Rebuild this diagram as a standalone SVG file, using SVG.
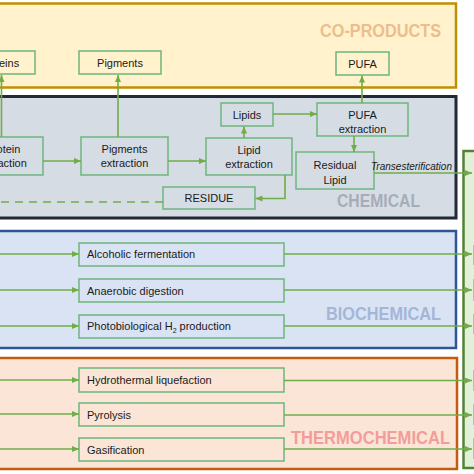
<svg xmlns="http://www.w3.org/2000/svg" width="474" height="474" viewBox="0 0 474 474">
<defs>
<marker id="ah" markerUnits="userSpaceOnUse" markerWidth="7" markerHeight="6" refX="7" refY="3" orient="auto">
<path d="M0,0 L7,3 L0,6 z" fill="#70AD47"/>
</marker>
<style>
.box{fill:none;stroke:#6DB57E;stroke-width:1.5}
.t{font-family:"Liberation Sans",Arial,sans-serif;font-size:11px;fill:#1a1a1a}
.c{text-anchor:middle}
.hd{font-family:"Liberation Sans",Arial,sans-serif;font-size:18px;font-weight:bold}
.ln{fill:none;stroke:#70AD47;stroke-width:1.6}
.ar{marker-end:url(#ah)}
.out{fill:#A9D18E;stroke:none}
</style>
</defs>
<rect width="474" height="474" fill="#ffffff"/>
<g id="panel-coproducts">
<rect x="-10" y="3.5" width="466" height="84" fill="#FFF2CC" stroke="#BF9000" stroke-width="2.5"/>
<text class="hd" x="320" y="36.5" fill="#EBBE8E" textLength="121" lengthAdjust="spacingAndGlyphs">CO-PRODUCTS</text>
</g>
<g id="panel-chemical">
<rect x="-10" y="96.5" width="466" height="121.5" fill="#D6DCE4" stroke="#222A35" stroke-width="3"/>
<text class="hd" x="337" y="207" fill="#A6ADB8" textLength="83" lengthAdjust="spacingAndGlyphs">CHEMICAL</text>
</g>
<g id="panel-biochemical">
<rect x="-10" y="231" width="466" height="117" fill="#DAE3F3" stroke="#2F5597" stroke-width="2.5"/>
<text class="hd" x="326" y="320" fill="#A4B6D8" textLength="115" lengthAdjust="spacingAndGlyphs">BIOCHEMICAL</text>
</g>
<g id="panel-thermochemical">
<rect x="-10" y="358" width="467" height="111" fill="#FBE5D6" stroke="#C55A11" stroke-width="2.5"/>
<text class="hd" x="291" y="444" fill="#F29D9B" textLength="159" lengthAdjust="spacingAndGlyphs">THERMOCHEMICAL</text>
</g>
<g id="panel-products">
<rect x="463.5" y="151" width="20" height="317" fill="#E2F0D9" stroke="#548235" stroke-width="2.5"/>
<rect class="out" x="473" y="245" width="10" height="20"/>
<rect class="out" x="473" y="279" width="10" height="22"/>
<rect class="out" x="473" y="314" width="10" height="20"/>
<rect class="out" x="473" y="370" width="10" height="21"/>
<rect class="out" x="473" y="404" width="10" height="21"/>
<rect class="out" x="473" y="438" width="10" height="21"/>
</g>
<g id="node-proteins">
<rect class="box" x="-37" y="51" width="72" height="23"/>
<text class="t c" x="-1" y="66.5">Proteins</text>
</g>
<g id="node-pigments">
<rect class="box" x="79" y="51" width="82" height="23"/>
<text class="t c" x="120" y="66.5">Pigments</text>
</g>
<g id="node-pufa">
<rect class="box" x="336" y="52" width="53" height="23"/>
<text class="t c" x="362.5" y="67.5">PUFA</text>
</g>
<g id="node-protein-extraction">
<rect class="box" x="-37" y="137" width="80" height="38"/>
<text class="t c" x="3" y="153">Protein</text>
<text class="t c" x="3" y="167">extraction</text>
</g>
<g id="node-pigments-extraction">
<rect class="box" x="81" y="137" width="87" height="38"/>
<text class="t c" x="124.5" y="153">Pigments</text>
<text class="t c" x="124.5" y="167">extraction</text>
</g>
<g id="node-lipid-extraction">
<rect class="box" x="206" y="138" width="86" height="37"/>
<text class="t c" x="249" y="153.5">Lipid</text>
<text class="t c" x="249" y="167.5">extraction</text>
</g>
<g id="node-lipids">
<rect class="box" x="221" y="103" width="52" height="23"/>
<text class="t c" x="247" y="118.5">Lipids</text>
</g>
<g id="node-pufa-extraction">
<rect class="box" x="317" y="103" width="91" height="33"/>
<text class="t c" x="362.5" y="118.5">PUFA</text>
<text class="t c" x="362.5" y="132.5">extraction</text>
</g>
<g id="node-residual-lipid">
<rect class="box" x="296" y="152" width="78" height="37"/>
<text class="t c" x="335" y="169">Residual</text>
<text class="t c" x="335" y="184">Lipid</text>
</g>
<g id="node-residue">
<rect class="box" x="163" y="187" width="92" height="22"/>
<text class="t c" x="209" y="202">RESIDUE</text>
</g>
<g id="node-alcoholic">
<rect class="box" x="79" y="243" width="205" height="23"/>
<text class="t" x="87" y="258">Alcoholic fermentation</text>
</g>
<g id="node-anaerobic">
<rect class="box" x="79" y="279" width="205" height="23"/>
<text class="t" x="87" y="294.5">Anaerobic digestion</text>
</g>
<g id="node-photobio">
<rect class="box" x="79" y="315" width="205" height="23"/>
<text class="t" x="87" y="330">Photobiological H<tspan font-size="7" dy="2.5">2</tspan><tspan dy="-2.5"> production</tspan></text>
</g>
<g id="node-htl">
<rect class="box" x="79" y="368" width="205" height="24"/>
<text class="t" x="87" y="384">Hydrothermal liquefaction</text>
</g>
<g id="node-pyrolysis">
<rect class="box" x="79" y="403" width="205" height="23"/>
<text class="t" x="87" y="418.5">Pyrolysis</text>
</g>
<g id="node-gasification">
<rect class="box" x="79" y="438" width="205" height="23"/>
<text class="t" x="87" y="453.5">Gasification</text>
</g>
<g id="connectors">
<line class="ln ar" x1="1.5" y1="137" x2="1.5" y2="75"/>
<line class="ln ar" x1="118" y1="137" x2="118" y2="75"/>
<line class="ln ar" x1="362" y1="103" x2="362" y2="75.5"/>
<line class="ln ar" x1="43" y1="161" x2="81" y2="161"/>
<line class="ln ar" x1="168" y1="161" x2="206" y2="161"/>
<line class="ln ar" x1="244" y1="138" x2="244" y2="126.5"/>
<line class="ln ar" x1="273" y1="114" x2="317" y2="114"/>
<line class="ln ar" x1="354" y1="136" x2="354" y2="152"/>
<polyline class="ln ar" points="285,175 285,198.5 255.5,198.5"/>
<line class="ln" x1="163" y1="202" x2="-2" y2="202" stroke-dasharray="8,6"/>
<line class="ln ar" x1="374" y1="173" x2="472" y2="173"/>
<text x="371" y="170" font-family="'Liberation Sans',Arial,sans-serif" font-size="10" font-style="italic" fill="#1a1a1a">Transesterification</text>
<line class="ln ar" x1="-5" y1="254" x2="79" y2="254"/>
<line class="ln ar" x1="-5" y1="290" x2="79" y2="290"/>
<line class="ln ar" x1="-5" y1="326" x2="79" y2="326"/>
<line class="ln ar" x1="284" y1="254" x2="472" y2="254"/>
<line class="ln ar" x1="284" y1="290" x2="472" y2="290"/>
<line class="ln ar" x1="284" y1="326" x2="472" y2="326"/>
<line class="ln ar" x1="-5" y1="380" x2="79" y2="380"/>
<line class="ln ar" x1="-5" y1="414" x2="79" y2="414"/>
<line class="ln ar" x1="-5" y1="449" x2="79" y2="449"/>
<line class="ln ar" x1="284" y1="380.5" x2="472" y2="380.5"/>
<line class="ln ar" x1="284" y1="415" x2="472" y2="415"/>
<line class="ln ar" x1="284" y1="449" x2="472" y2="449"/>
</g>
</svg>
